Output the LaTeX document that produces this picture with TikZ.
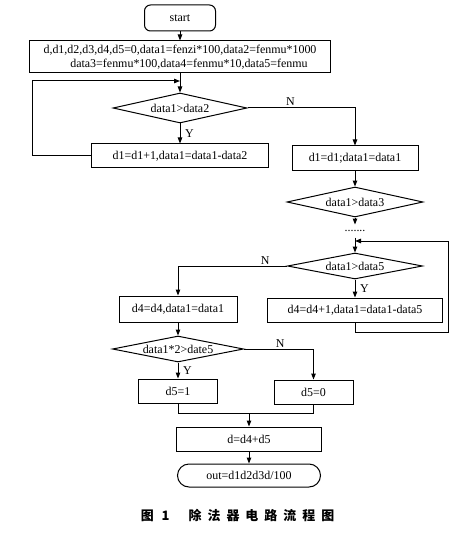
\documentclass[tikz,border=0pt]{standalone}
\usepackage{fontspec}
\setmainfont{Liberation Serif}
\newfontfamily\cjkfont{Noto Sans CJK SC}
\usetikzlibrary{shapes.geometric,arrows.meta}
\begin{document}
\begin{tikzpicture}[x=1bp,y=-1bp,
  font=\fontsize{12}{14}\selectfont,
  line width=1bp,
  box/.style={draw, rectangle, inner sep=0pt, align=center},
  dia/.style={draw, diamond, inner sep=0pt, aspect=4.5},
  arr/.style={-{Triangle[length=6bp,width=4.5bp]}},
  lab/.style={inner sep=1.5bp}]
\useasboundingbox (0,0) rectangle (474,540);
% nodes
\node[box, rounded corners=6bp, minimum width=71bp, minimum height=26bp] (start) at (180,18) {start};
\node[box, minimum width=300bp, minimum height=32bp] (init) at (180,57)
  {d,d1,d2,d3,d4,d5=0,data1=fenzi*100,data2=fenmu*1000\\ \hspace*{18bp}data3=fenmu*100,data4=fenmu*10,data5=fenmu};
\coordinate (j1) at (180,81);
\node[dia, minimum width=134bp, minimum height=30bp] (q1) at (180,108) {data1>data2};
\node[box, minimum width=177bp, minimum height=24bp] (b1) at (180,156) {d1=d1+1,data1=data1-data2};
\node[box, minimum width=126bp, minimum height=25bp] (b2) at (355,158.5) {d1=d1;data1=data1};
\node[dia, minimum width=136bp, minimum height=30bp] (q3) at (355,202) {data1>data3};
\node[inner sep=0pt, minimum height=12bp] (dots) at (355,231) {.......};
\coordinate (j2) at (355,241);
\node[dia, aspect=5, minimum width=135bp, minimum height=26bp] (q5) at (355,266) {data1>data5};
\node[box, minimum width=175bp, minimum height=24bp] (b4) at (355,310) {d4=d4+1,data1=data1-data5};
\node[box, minimum width=118bp, minimum height=26bp] (b3) at (178,309) {d4=d4,data1=data1};
\node[dia, aspect=5, minimum width=131bp, minimum height=26bp] (q6) at (178,349) {data1*2>date5};
\node[box, minimum width=79bp, minimum height=24bp] (b5) at (178,391) {d5=1};
\node[box, minimum width=79bp, minimum height=24bp] (b6) at (313.5,392) {d5=0};
\coordinate (m) at (249,413);
\node[box, minimum width=145bp, minimum height=24bp] (b7) at (249,439) {d=d4+d5};
\node[box, rounded corners=11.5bp, minimum width=143bp, minimum height=23bp] (out) at (249,475.5) {out=d1d2d3d/100};
\node[font=\cjkfont\bfseries\fontsize{13}{15}\selectfont, inner sep=0pt] (cap) at (237.5,515)
  {图\hspace{8bp}1\hspace{19bp}除\hspace{6bp}法\hspace{6bp}器\hspace{6bp}电\hspace{6bp}路\hspace{6bp}流\hspace{6bp}程\hspace{6bp}图};
% connectors
\draw[arr] (start) -- (init);
\draw[arr] (init) -- (q1);
\draw[arr] (b1.west) -- ++(-58,0) |- (j1);
\draw[arr] (q1) -- node[right=3bp, lab]{Y} (b1);
\draw[arr] (q1.east) -| node[pos=0.2, above, lab]{N} (b2.north);
\draw[arr] (b2) -- (q3);
\draw[arr] (q3) -- (dots);
\draw[arr] (dots) -- (q5);
\draw[arr] (b4.south) -- ++(0,10) -- ++(93,0) |- (j2);
\draw[arr] (q5) -- node[right=3bp, lab]{Y} (b4);
\draw[arr] (q5.west) -| node[pos=0.1, above, lab]{N} (b3.north);
\draw[arr] (b3) -- (q6);
\draw[arr] (q6) -- node[right=3bp, lab]{Y} (b5);
\draw[arr] (q6.east) -| node[pos=0.26, above, lab]{N} (b6.north);
\draw (b5.south) |- (m);
\draw (b6.south) |- (m);
\draw[arr] (m) -- (b7);
\draw[arr] (b7) -- (out);
\end{tikzpicture}
\end{document}
